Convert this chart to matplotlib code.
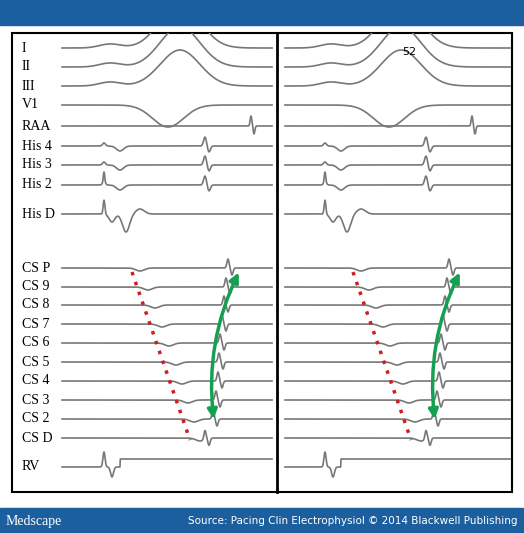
import numpy as np
import matplotlib
matplotlib.use("Agg")
import matplotlib.pyplot as plt

channels = ["I", "II", "III", "V1", "RAA", "His 4", "His 3", "His 2", "His D",
            "CS P", "CS 9", "CS 8", "CS 7", "CS 6", "CS 5", "CS 4", "CS 3", "CS 2", "CS D", "RV"]
baselines = [48, 67, 86, 105, 126, 146, 165, 185, 214,
             268, 287, 305, 324, 343, 362, 381, 400, 419, 438, 467]
cs_sharp = [228, 226, 224, 222, 220, 219, 218, 216, 213, 205]
cs_far = [132, 140, 147, 154, 161, 168, 174, 180, 186, 192]
panel_offset = [0, 221]

W, H = 524, 533
fig = plt.figure(figsize=(W/100, H/100), dpi=100)
ax = fig.add_axes([0, 0, 1, 1])
ax.set_xlim(0, W); ax.set_ylim(H, 0); ax.axis("off")

blue = "#1c5f9e"
ax.add_patch(plt.Rectangle((0, 0), W, 25, color=blue))
ax.add_patch(plt.Rectangle((0, 508), W, 25, color=blue))
ax.text(6, 521, "Medscape", color="white", fontsize=10, family="Liberation Serif", va="center")
ax.text(518, 521, "Source: Pacing Clin Electrophysiol © 2014 Blackwell Publishing",
        color="white", fontsize=7.5, ha="right", va="center")
frame = plt.Rectangle((12, 33), 500, 459, fill=False, lw=1.5, color="black")
ax.add_patch(frame)
ax.plot([277, 277], [33, 492], color="black", lw=2)

gc = "#777777"
def g(x, c, w):
    return np.exp(-((x - c) / w) ** 2)

for p, off in enumerate(panel_offset):
    x0 = 62 if p == 0 else 285
    x1 = 272 if p == 0 else 510
    x = np.linspace(x0, x1, 700)
    for i, (name, yb) in enumerate(zip(channels, baselines)):
        if p == 0:
            ax.text(22, yb, name, family="Liberation Serif", fontsize=10, va="center", ha="left")
        y = np.zeros_like(x)
        if name in ("I", "II", "III"):
            k = {"I": 1.0, "II": 0.9, "III": 0.8}[name]
            y -= 45 * k * g(x, 180 + off, 28)
            y -= 4 * g(x, 110 + off, 15)
        elif name == "V1":
            y += 22 * g(x, 168 + off, 22)
        elif name == "RAA":
            y += -10 * g(x, 251 + off, 1.2) + 8 * g(x, 254 + off, 1.2)
        elif name.startswith("His") and name != "His D":
            y += -9 * g(x, 205 + off, 2) + 6 * g(x, 209 + off, 2)
            y += -3 * g(x, 104 + off, 2) + 5 * g(x, 120 + off, 5)
            if name == "His 2":
                y += -10 * g(x, 104 + off, 1)
        elif name == "His D":
            y += -14 * g(x, 104 + off, 1.2) + 8 * g(x, 112 + off, 4)
            y += 18 * g(x, 126 + off, 5) - 5 * g(x, 140 + off, 6)
        elif name == "RV":
            y += -15 * g(x, 104 + off, 1.5) + 10 * g(x, 112 + off, 2)
            y = np.where(x > 120 + off, y - 8, y)
        else:
            j = i - 9
            cx = cs_sharp[j] + off
            y += -9 * g(x, cx, 1.5) + 7 * g(x, cx + 4, 1.5)
            y += 3 * g(x, cs_far[j] + 8 + off, 6)
        line, = ax.plot(x, yb + y, color=gc, lw=1.2)
        line.set_clip_path(frame)
    ax.plot([132 + off, 190 + off], [272, 440], ls=(0, (1, 2)), color="#cc1f1f", lw=2.5)
    ax.annotate("", xy=(240 + off, 270), xytext=(214 + off, 422),
                arrowprops=dict(arrowstyle="<|-|>", color="#14a050", lw=2.5,
                                connectionstyle="arc3,rad=-0.15", mutation_scale=14))
ax.text(402, 55, "52", fontsize=8)
fig.savefig("out.png", dpi=100)
